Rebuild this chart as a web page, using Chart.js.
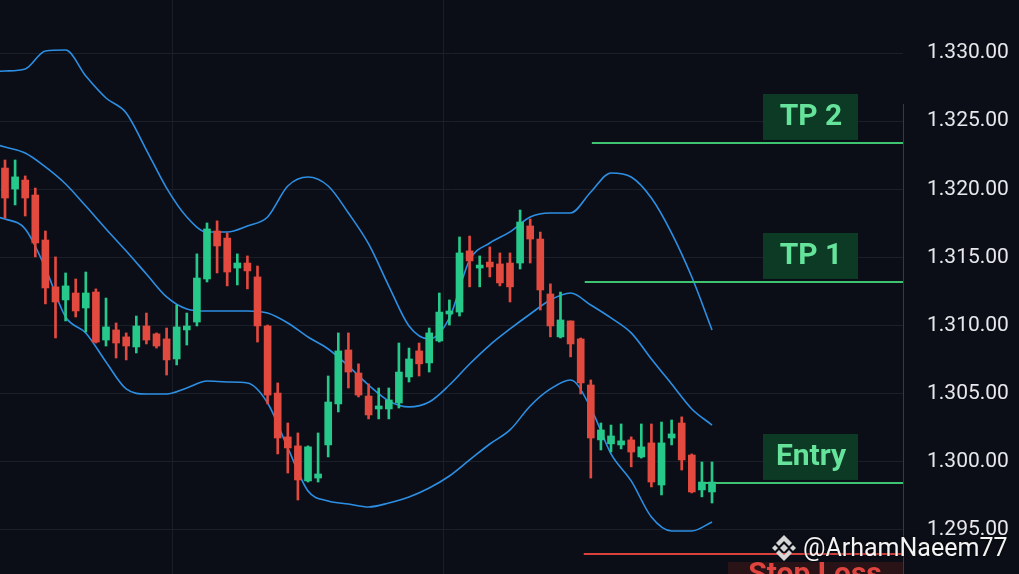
<!DOCTYPE html>
<html lang="en">
<head>
<meta charset="UTF-8">
<title>Candles with bands</title>
<script src="https://cdn.jsdelivr.net/npm/chart.js@4.4.1/dist/chart.umd.min.js"></script>
<style>
  html, body { margin: 0; padding: 0; background: #0b0e16; overflow: hidden; }
  #wrap { width: 1019px; height: 574px; position: relative; }
</style>
</head>
<body>
<div id="wrap"><canvas id="priceChart"></canvas></div>
<script>
// candles, one per bar
const opens = [
  1.32156, 1.32002, 1.32068, 1.31958, 1.31628, 1.31284, 1.31188, 1.31239, 1.31129, 1.31246,
  1.30894, 1.30968, 1.30917, 1.30843, 1.30997, 1.30939, 1.30902, 1.30755, 1.30968, 1.31026,
  1.31342, 1.31694, 1.31642, 1.31422, 1.31459, 1.31357, 1.30997, 1.30505, 1.30183, 1.30117,
  1.29860, 1.29881, 1.30124, 1.30425, 1.30821, 1.30652, 1.30483, 1.30388, 1.30388, 1.30432,
  1.30623, 1.30814, 1.30726, 1.30887, 1.31085, 1.31099, 1.31548, 1.31422, 1.31466, 1.31452,
  1.31459, 1.31459, 1.31731, 1.31635, 1.31232, 1.30917, 1.31034, 1.30902, 1.30564, 1.30161,
  1.30132, 1.30124, 1.30161, 1.30036, 1.30139, 1.29830, 1.30175, 1.30285, 1.30050, 1.29794,
  1.29779
]
const highs = [
  1.32215, 1.32215, 1.32098, 1.32009, 1.31694, 1.31504, 1.31386, 1.31342, 1.31393, 1.31269,
  1.31202, 1.31019, 1.30946, 1.31070, 1.31092, 1.30946, 1.30982, 1.31151, 1.31092, 1.31526,
  1.31753, 1.31768, 1.31679, 1.31526, 1.31511, 1.31437, 1.31004, 1.30579, 1.30285, 1.30212,
  1.30117, 1.30212, 1.30630, 1.30946, 1.30946, 1.30719, 1.30572, 1.30542, 1.30542, 1.30872,
  1.30835, 1.30872, 1.30982, 1.31239, 1.31188, 1.31650, 1.31657, 1.31511, 1.31577, 1.31533,
  1.31533, 1.31848, 1.31782, 1.31686, 1.31306, 1.31246, 1.31034, 1.30909, 1.30601, 1.30285,
  1.30270, 1.30278, 1.30183, 1.30278, 1.30278, 1.30292, 1.30307, 1.30330, 1.30058, 1.29999,
  1.29999
]
const lows = [
  1.31789, 1.31885, 1.31804, 1.31504, 1.31159, 1.30909, 1.31034, 1.31063, 1.30953, 1.30872,
  1.30850, 1.30762, 1.30748, 1.30799, 1.30865, 1.30835, 1.30637, 1.30711, 1.30857, 1.30997,
  1.31320, 1.31386, 1.31291, 1.31298, 1.31269, 1.30879, 1.30425, 1.30058, 1.29918, 1.29720,
  1.29852, 1.29852, 1.30036, 1.30366, 1.30542, 1.30476, 1.30315, 1.30315, 1.30315, 1.30395,
  1.30586, 1.30630, 1.30659, 1.30879, 1.31004, 1.31070, 1.31284, 1.31284, 1.31357, 1.31291,
  1.31173, 1.31415, 1.31459, 1.31114, 1.30917, 1.30909, 1.30770, 1.30498, 1.29881, 1.30087,
  1.30072, 1.30095, 1.29963, 1.30028, 1.29816, 1.29757, 1.30124, 1.29940, 1.29772, 1.29743,
  1.29698
]
const closes = [
  1.31936, 1.32091, 1.31936, 1.31606, 1.31276, 1.31173, 1.31291, 1.31107, 1.31239, 1.30879,
  1.30990, 1.30872, 1.30850, 1.30997, 1.30894, 1.30850, 1.30748, 1.30990, 1.30997, 1.31349,
  1.31709, 1.31584, 1.31393, 1.31459, 1.31401, 1.30997, 1.30490, 1.30175, 1.30102, 1.29867,
  1.30110, 1.29911, 1.30439, 1.30814, 1.30659, 1.30490, 1.30344, 1.30410, 1.30454, 1.30659,
  1.30755, 1.30719, 1.30946, 1.31099, 1.31107, 1.31533, 1.31474, 1.31444, 1.31430, 1.31313,
  1.31284, 1.31760, 1.31635, 1.31261, 1.30997, 1.31041, 1.30865, 1.30579, 1.30175, 1.30234,
  1.30190, 1.30154, 1.30072, 1.30110, 1.29852, 1.30139, 1.30205, 1.30014, 1.29779, 1.29852,
  1.29852
]

// bollinger bands, sampled every second bar
const bandIdx = [-2, 0, 2, 4, 6, 8, 10, 12, 14, 16, 18, 20, 22, 24, 26, 28, 30, 32, 34, 36,
  38, 40, 42, 44, 46, 48, 50, 52, 54, 56, 58, 60, 62, 64, 66, 68, 70]
const upperBand = [
  1.32861, 1.32868, 1.32883, 1.33015, 1.33022, 1.32831, 1.32670, 1.32560, 1.32288, 1.32009,
  1.31797, 1.31687, 1.31687, 1.31731, 1.31797, 1.32024, 1.32090, 1.32024, 1.31826, 1.31599,
  1.31290, 1.30997, 1.30901, 1.31056, 1.31481, 1.31606, 1.31687, 1.31797, 1.31826, 1.31826,
  1.31980, 1.32120, 1.32090, 1.31936, 1.31679, 1.31356, 1.30968
]
const middleBand = [
  1.32354, 1.32310, 1.32266, 1.32164, 1.32039, 1.31877, 1.31709, 1.31547, 1.31378, 1.31210,
  1.31122, 1.31107, 1.31107, 1.31107, 1.31092, 1.31019, 1.30916, 1.30828, 1.30703, 1.30564,
  1.30447, 1.30403, 1.30439, 1.30564, 1.30718, 1.30857, 1.30975, 1.31085, 1.31188, 1.31239,
  1.31151, 1.31056, 1.30946, 1.30755, 1.30571, 1.30388, 1.30270
]
const lowerBand = [
  1.31811, 1.31782, 1.31709, 1.31422, 1.31063, 1.30946, 1.30733, 1.30535, 1.30498, 1.30498,
  1.30542, 1.30593, 1.30586, 1.30579, 1.30432, 1.30102, 1.29786, 1.29713, 1.29691, 1.29669,
  1.29698, 1.29742, 1.29808, 1.29896, 1.30014, 1.30131, 1.30234, 1.30410, 1.30535, 1.30601,
  1.30395, 1.30058, 1.29860, 1.29595, 1.29493, 1.29493, 1.29559
]

// trade levels
const levelNames = ['TP 2', 'TP 1', 'Entry', 'Stop Loss']
const levelPrices = [1.3234, 1.3132, 1.29845, 1.29324]
const levelFrom = [58.1, 57.4, 68.8, 57.3]

const priceTicks = [1.330, 1.325, 1.320, 1.315, 1.310, 1.305, 1.300, 1.295]
const timeGrid = [16.63, 43.37]

const X_MIN = -0.495
const X_MAX = 88.91
const GREEN = '#27c98b'
const RED = '#e2493f'
const BAND = '#2d8fe4'

const candleColor = ctx => closes[ctx.dataIndex] >= opens[ctx.dataIndex] ? GREEN : RED

const bandSet = (values) => ({
    type: 'line',
    data: bandIdx.map((x, j) => ({x: x, y: values[j]})),
    borderColor: BAND,
    borderWidth: 1.6,
    pointRadius: 0,
    cubicInterpolationMode: 'monotone',
    order: 5
})

const levelSet = (k) => ({
    type: 'line',
    data: [{x: levelFrom[k], y: levelPrices[k]}, {x: X_MAX, y: levelPrices[k]}],
    borderColor: levelNames[k] === 'Stop Loss' ? '#d8413c' : '#3ec470',
    borderWidth: 2,
    pointRadius: 0,
    order: 3
})

const overlay = {
    id: 'overlay',
    afterDatasetsDraw(chart) {
        const {ctx, chartArea, scales} = chart
        const right = chartArea.right
        ctx.save()

        // price axis line
        ctx.strokeStyle = '#353a45'
        ctx.lineWidth = 1
        ctx.beginPath()
        ctx.moveTo(right + 0.5, 104)
        ctx.lineTo(right + 0.5, chart.height)
        ctx.stroke()

        // level tags
        ctx.textAlign = 'center'
        ctx.textBaseline = 'middle'
        ctx.font = 'bold 30px Roboto'
        levelNames.forEach((name, k) => {
            const y = scales.y.getPixelForValue(levelPrices[k])
            if (name === 'Stop Loss') {
                ctx.fillStyle = '#2a1317'
                ctx.fillRect(right - 175, y + 8, 175, 60)
                ctx.fillStyle = '#e0443e'
                ctx.fillText(name, right - 88, y + 22)
            } else {
                ctx.fillStyle = '#0d3a25'
                ctx.fillRect(right - 140, y - 49, 95, 46)
                ctx.fillStyle = '#66e39b'
                ctx.fillText(name, right - 92, y - 25)
            }
        })

        // watermark
        const lx = 784, ly = 548
        ctx.fillStyle = '#d6d6d6'
        const diamond = (cx, cy, r) => {
            ctx.beginPath()
            ctx.moveTo(cx, cy - r); ctx.lineTo(cx + r, cy); ctx.lineTo(cx, cy + r); ctx.lineTo(cx - r, cy)
            ctx.closePath(); ctx.fill()
        }
        diamond(lx, ly, 4)
        diamond(lx - 9, ly, 3)
        diamond(lx + 9, ly, 3)
        ctx.beginPath()
        ctx.moveTo(lx, ly - 13); ctx.lineTo(lx + 8, ly - 5); ctx.lineTo(lx + 5, ly - 2)
        ctx.lineTo(lx, ly - 7); ctx.lineTo(lx - 5, ly - 2); ctx.lineTo(lx - 8, ly - 5)
        ctx.closePath(); ctx.fill()
        ctx.beginPath()
        ctx.moveTo(lx, ly + 13); ctx.lineTo(lx + 8, ly + 5); ctx.lineTo(lx + 5, ly + 2)
        ctx.lineTo(lx, ly + 7); ctx.lineTo(lx - 5, ly + 2); ctx.lineTo(lx - 8, ly + 5)
        ctx.closePath(); ctx.fill()

        ctx.font = '25px Roboto'
        ctx.textAlign = 'left'
        ctx.textBaseline = 'alphabetic'
        ctx.shadowColor = 'rgba(0,0,0,0.8)'
        ctx.shadowBlur = 3
        ctx.fillStyle = '#f4f4f4'
        ctx.fillText('@ArhamNaeem77', 803, 556)
        ctx.restore()
    }
}

new Chart(document.getElementById('priceChart'), {
    type: 'bar',
    data: {
        datasets: [
            {
                label: 'body',
                data: opens.map((o, i) => ({x: i, y: [o, closes[i]]})),
                backgroundColor: candleColor,
                barThickness: 7,
                minBarLength: 2,
                grouped: false,
                order: 1
            },
            {
                label: 'wick',
                data: lows.map((l, i) => ({x: i, y: [l, highs[i]]})),
                backgroundColor: candleColor,
                barThickness: 2,
                grouped: false,
                order: 2
            },
            bandSet(upperBand),
            bandSet(middleBand),
            bandSet(lowerBand),
            levelSet(0), levelSet(1), levelSet(2), levelSet(3)
        ]
    },
    options: {
        responsive: true,
        maintainAspectRatio: false,
        animation: false,
        layout: {padding: 0},
        plugins: {legend: {display: false}, tooltip: {enabled: false}},
        scales: {
            x: {
                type: 'linear',
                min: X_MIN,
                max: X_MAX,
                offset: false,
                ticks: {display: false},
                grid: {color: '#191d27', drawTicks: false, offset: false},
                border: {display: false},
                afterBuildTicks: s => { s.ticks = timeGrid.map(v => ({value: v})) },
                afterFit: s => { s.height = 0; s.paddingLeft = 0; s.paddingRight = 0 }
            },
            y: {
                type: 'linear',
                position: 'right',
                min: 1.29177,
                max: 1.33389,
                beginAtZero: false,
                ticks: {
                    color: '#e6e8ec',
                    font: {family: 'Roboto', size: 21},
                    padding: 24,
                    callback: v => v.toFixed(3) + '.00'
                },
                grid: {color: '#1b1f29', drawTicks: false},
                border: {display: false},
                afterBuildTicks: s => { s.ticks = priceTicks.map(v => ({value: v})) },
                afterFit: s => { s.width = 116; s.paddingTop = 0; s.paddingBottom = 0 }
            }
        }
    },
    plugins: [overlay]
})
</script>
</body>
</html>
